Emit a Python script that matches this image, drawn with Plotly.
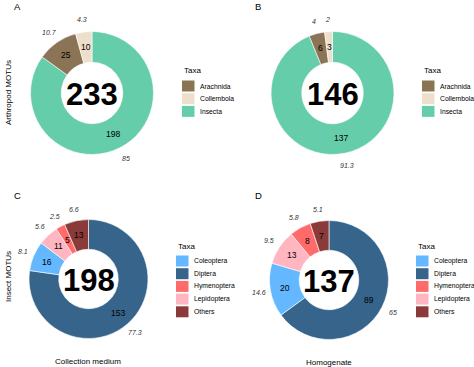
import math
import plotly.graph_objects as go

W, H = 474, 367

# ---- data ----
arthropod_taxa = ["Insecta", "Arachnida", "Collembola"]
arthropod_legend = ["Arachnida", "Collembola", "Insecta"]
a_counts = [198, 25, 10]
a_pct = ["85", "10.7", "4.3"]
a_total = 233
b_counts = [137, 6, 3]
b_pct = ["91.3", "4", "2"]
b_total = 146

insect_taxa = ["Diptera", "Coleoptera", "Lepidoptera", "Hymenoptera", "Others"]
insect_legend = ["Coleoptera", "Diptera", "Hymenoptera", "Lepidoptera", "Others"]
c_counts = [153, 16, 11, 5, 13]
c_pct = ["77.3", "8.1", "5.6", "2.5", "6.6"]
c_total = 198
d_counts = [89, 20, 13, 8, 7]
d_pct = ["65", "14.6", "9.5", "5.8", "5.1"]
d_total = 137

colors = {
    "Arachnida": "#8B7355", "Collembola": "#EEDFCC", "Insecta": "#66CDAA",
    "Coleoptera": "#63B8FF", "Diptera": "#36648B", "Hymenoptera": "#FF6A6A",
    "Lepidoptera": "#FFB6C1", "Others": "#8B3A3A",
}

FONT = "Liberation Sans, Arial, Helvetica, sans-serif"

panels = [
    dict(letter="A", labels=arthropod_taxa, values=a_counts, pct=a_pct, total=a_total,
         cx=92, cy=93, R=61.5, lx=182, ly=71, legend=arthropod_legend, tx=17, ty=6),
    dict(letter="B", labels=arthropod_taxa, values=b_counts, pct=b_pct, total=b_total,
         cx=332.5, cy=93, R=61.5, lx=422, ly=71, legend=arthropod_legend, tx=258, ty=6),
    dict(letter="C", labels=insect_taxa, values=c_counts, pct=c_pct, total=c_total,
         cx=88.5, cy=279, R=59.5, lx=176, ly=246, legend=insect_legend, tx=17, ty=195),
    dict(letter="D", labels=insect_taxa, values=d_counts, pct=d_pct, total=d_total,
         cx=329, cy=280, R=59.5, lx=416, ly=246, legend=insect_legend, tx=258, ty=195),
]

def px(x):
    return x / W

def py(y):
    return 1 - y / H

fig = go.Figure()
annotations = []
shapes = []

for p in panels:
    cx, cy, R = p["cx"], p["cy"], p["R"]
    fig.add_trace(go.Pie(
        labels=p["labels"], values=p["values"], hole=0.5, sort=False,
        direction="clockwise", rotation=0, textinfo="none", hoverinfo="label+value",
        marker=dict(colors=[colors[l] for l in p["labels"]], line=dict(color="white", width=0.6)),
        domain=dict(x=[px(cx - R), px(cx + R)], y=[py(cy + R), py(cy - R)]),
        showlegend=False,
    ))
    tot = sum(p["values"])
    cum = 0
    for v, pc in zip(p["values"], p["pct"]):
        mid = (cum + v / 2) / tot * 2 * math.pi
        cum += v
        s, c = math.sin(mid), math.cos(mid)
        annotations.append(dict(x=px(cx + 0.75 * R * s), y=py(cy - 0.75 * R * c),
                                xref="paper", yref="paper", text=str(v), showarrow=False,
                                font=dict(family=FONT, size=8.5, color="black"),
                                xanchor="center", yanchor="middle"))
        annotations.append(dict(x=px(cx + 1.2 * R * s), y=py(cy - 1.2 * R * c),
                                xref="paper", yref="paper", text="<i>%s</i>" % pc, showarrow=False,
                                font=dict(family=FONT, size=7, color="#333333"),
                                xanchor="center", yanchor="middle"))
    annotations.append(dict(x=px(cx), y=py(cy + 1), xref="paper", yref="paper",
                            text="<b>%d</b>" % p["total"], showarrow=False,
                            font=dict(family=FONT, size=31, color="black"),
                            xanchor="center", yanchor="middle"))
    annotations.append(dict(x=px(p["tx"]), y=py(p["ty"]), xref="paper", yref="paper",
                            text=p["letter"], showarrow=False,
                            font=dict(family=FONT, size=9.5, color="black"),
                            xanchor="center", yanchor="middle"))
    annotations.append(dict(x=px(p["lx"]), y=py(p["ly"]), xref="paper", yref="paper",
                            text="Taxa", showarrow=False,
                            font=dict(family=FONT, size=8, color="black"),
                            xanchor="left", yanchor="middle"))
    for i, name in enumerate(p["legend"]):
        yc = p["ly"] + 15 + i * 12.7
        shapes.append(dict(type="rect", xref="paper", yref="paper",
                           x0=px(p["lx"]), x1=px(p["lx"] + 12.5),
                           y0=py(yc - 5.5), y1=py(yc + 5.5),
                           fillcolor=colors[name], line=dict(width=0)))
        annotations.append(dict(x=px(p["lx"] + 16), y=py(yc), xref="paper", yref="paper",
                                text=name, showarrow=False,
                                font=dict(family=FONT, size=6.8, color="black"),
                                xanchor="left", yanchor="middle"))

annotations += [
    dict(x=px(8), y=py(93), xref="paper", yref="paper", text="Arthropod MOTUs",
         textangle=-90, showarrow=False, xanchor="center", yanchor="middle",
         font=dict(family=FONT, size=8, color="black")),
    dict(x=px(8), y=py(277), xref="paper", yref="paper", text="Insect MOTUs",
         textangle=-90, showarrow=False, xanchor="center", yanchor="middle",
         font=dict(family=FONT, size=8, color="black")),
    dict(x=px(88), y=py(361), xref="paper", yref="paper", text="Collection medium",
         showarrow=False, xanchor="center", yanchor="middle",
         font=dict(family=FONT, size=8, color="black")),
    dict(x=px(329), y=py(362), xref="paper", yref="paper", text="Homogenate",
         showarrow=False, xanchor="center", yanchor="middle",
         font=dict(family=FONT, size=8, color="black")),
]

fig.update_layout(width=W, height=H, margin=dict(l=0, r=0, t=0, b=0),
                  paper_bgcolor="white", plot_bgcolor="white",
                  annotations=annotations, shapes=shapes, showlegend=False)

fig.write_html("out.html", config={"displayModeBar": False},
               post_script="document.body.style.margin='0px';")
